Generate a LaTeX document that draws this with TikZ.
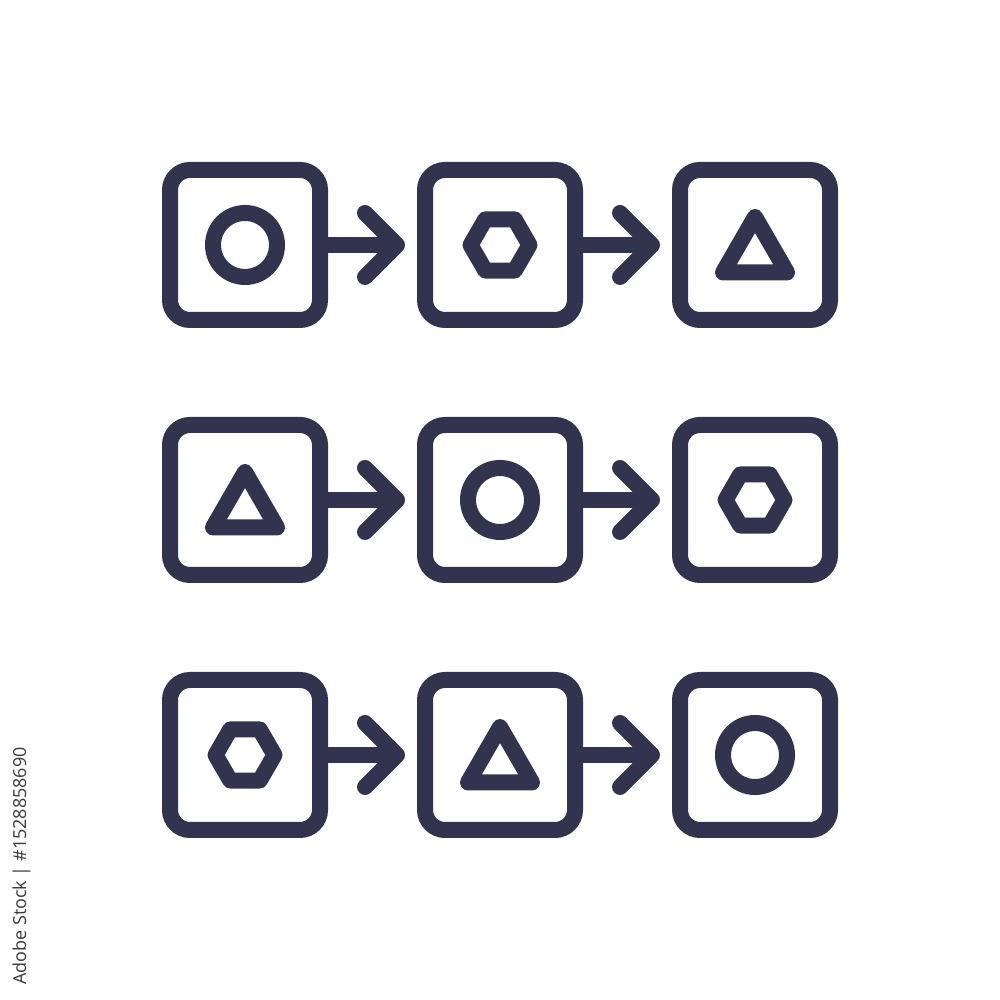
\documentclass[tikz,border=0pt]{standalone}
\usepackage{fontspec}
\setsansfont{Open Sans}
\usetikzlibrary{arrows.meta,shapes.geometric}
\definecolor{iconnavy}{HTML}{32344F}
\definecolor{stampgray}{HTML}{3A3A3A}
\tikzset{
  box/.style={draw=iconnavy, line width=0.16cm, rounded corners=0.2cm, minimum size=1.5cm, inner sep=0pt},
  ring/.style={draw=iconnavy, line width=0.16cm, circle, minimum size=0.64cm, inner sep=0pt},
  hexa/.style={draw=iconnavy, line width=0.16cm, regular polygon, regular polygon sides=6, minimum size=0.59cm, inner sep=0pt, line join=round},
  tri/.style={draw=iconnavy, line width=0.16cm, regular polygon, regular polygon sides=3, minimum size=0.74cm, inner sep=0pt, line join=round},
  link/.style={draw=iconnavy, line width=0.16cm, shorten >=0.12cm, -{Straight Barb[length=0.32cm, width=0.64cm, round]}}
}

\begin{document}
\begin{tikzpicture}
\useasboundingbox[fill=white] (0,0) rectangle (10,10);

% top row
\node[box] (b11) at (2.45, 7.55) {};
\node[box] (b12) at (5.00, 7.55) {};
\node[box] (b13) at (7.55, 7.55) {};
\node[ring] (s11) at (b11) {};
\node[hexa] (s12) at (b12) {};
\node[tri] (s13) at ([yshift=-0.09cm]b13) {};
\draw[link] (b11.east) -- (b12.west);
\draw[link] (b12.east) -- (b13.west);

% middle row
\node[box] (b21) at (2.45, 5.00) {};
\node[box] (b22) at (5.00, 5.00) {};
\node[box] (b23) at (7.55, 5.00) {};
\node[tri] (s21) at ([yshift=-0.09cm]b21) {};
\node[ring] (s22) at (b22) {};
\node[hexa] (s23) at (b23) {};
\draw[link] (b21.east) -- (b22.west);
\draw[link] (b22.east) -- (b23.west);

% bottom row
\node[box] (b31) at (2.45, 2.45) {};
\node[box] (b32) at (5.00, 2.45) {};
\node[box] (b33) at (7.55, 2.45) {};
\node[hexa] (s31) at (b31) {};
\node[tri] (s32) at ([yshift=-0.09cm]b32) {};
\node[ring] (s33) at (b33) {};
\draw[link] (b31.east) -- (b32.west);
\draw[link] (b32.east) -- (b33.west);

\node[rotate=90, text=stampgray, font=\sffamily\fontsize{5.1}{6}\selectfont, inner sep=0pt] (stamp) at (0.215, 1.34) {Adobe Stock | \#1528858690};

\end{tikzpicture}
\end{document}
